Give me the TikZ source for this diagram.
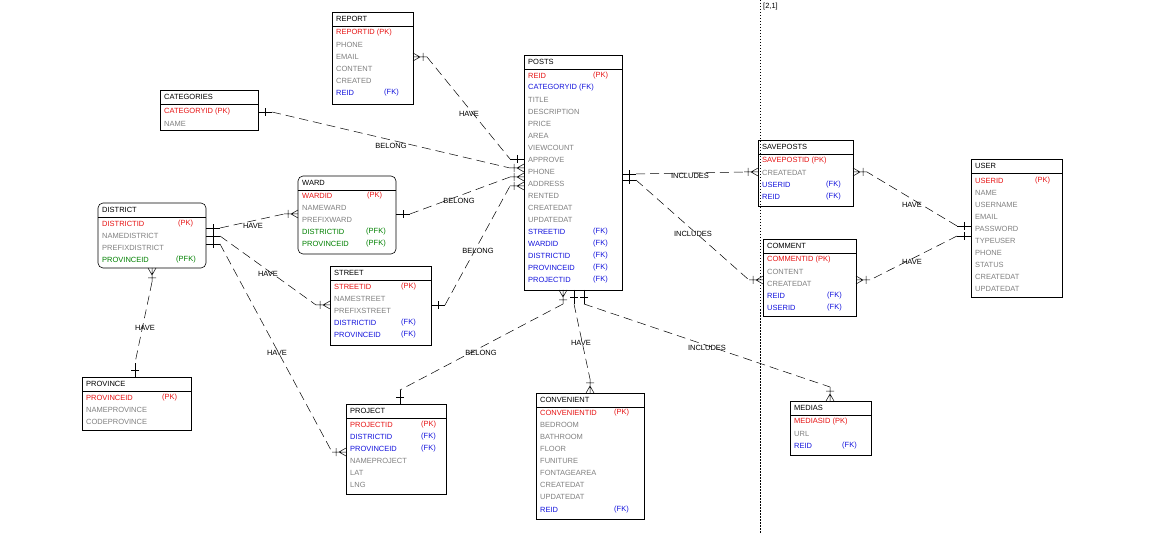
\documentclass[tikz,border=0pt]{standalone}
\usepackage{fontspec}
\setmainfont{Liberation Sans}
\usetikzlibrary{fit,calc}
\definecolor{pk}{RGB}{230,20,20}
\definecolor{fk}{RGB}{20,20,220}
\definecolor{pf}{RGB}{0,128,0}
\definecolor{at}{RGB}{128,128,128}
\tikzset{
  rel/.style={dash pattern=on 9pt off 5pt,line width=0.5pt},
  fld/.style={anchor=west,inner sep=0,font=\fontsize{7.5}{9}\selectfont},
  lbl/.style={inner sep=1pt,font=\fontsize{7.5}{9}\selectfont},
  boxline/.style={line width=0.6pt},
  crow/.pic={\draw[line width=0.5pt] (0,4)--(7,0)--(0,-4) (0,0)--(14,0) (10,4)--(10,-4);},
  one/.pic={\draw[line width=0.5pt] (0,0)--(14,0) (7,4)--(7,-4);}
}
\newcommand\erbox[6][]{%
  \draw[boxline,#1] (#3,#4) rectangle (#5,#6);
  \draw[boxline] (#3,{#4+14}) -- (#5,{#4+14});
  \node[fld] at ({#3+4},{#4+7}) {#2};
  \node[inner sep=0,fit={(#3,#4)(#5,#6)}] (#2) {};}
\newcommand\fl[4]{\node[fld,text=#3] at (#1,#2) {#4};}
% \rel{A}{angleA}{tipA}{B}{angleB}{tipB}
\newcommand\rel[6]{%
  \pic[rotate=#2] at (#1) {#3};
  \pic[rotate=#5] at (#4) {#6};
  \draw[rel] ($(#1)+(#2:14pt)$) -- ($(#4)+(#5:14pt)$);}
\begin{document}
\begin{tikzpicture}[x=1pt,y=-1pt]
\useasboundingbox (0,0) rectangle (1175,534);
\draw[dash pattern=on 1.5pt off 1.5pt] (760,0) -- (760,534);
\node[fld] at (763,7) {[2,1]};
% REPORT
\erbox{REPORT}{332}{12}{413}{104}
\fl{336}{33}{pk}{REPORTID (PK)}
\fl{336}{45}{at}{PHONE}\fl{336}{57}{at}{EMAIL}\fl{336}{69}{at}{CONTENT}\fl{336}{81}{at}{CREATED}
\fl{336}{93}{fk}{REID}\fl{384}{93}{fk}{(FK)}
% CATEGORIES
\erbox{CATEGORIES}{160}{90}{258}{130}
\fl{164}{112}{pk}{CATEGORYID (PK)}\fl{164}{124}{at}{NAME}
% POSTS
\erbox{POSTS}{524}{55}{622}{290}
\fl{528}{76}{pk}{REID}\fl{593}{76}{pk}{(PK)}
\fl{528}{88}{fk}{CATEGORYID (FK)}
\fl{528}{100}{at}{TITLE}\fl{528}{112}{at}{DESCRIPTION}\fl{528}{124}{at}{PRICE}\fl{528}{136}{at}{AREA}
\fl{528}{148}{at}{VIEWCOUNT}\fl{528}{160}{at}{APPROVE}\fl{528}{172}{at}{PHONE}\fl{528}{184}{at}{ADDRESS}
\fl{528}{196}{at}{RENTED}\fl{528}{208}{at}{CREATEDAT}\fl{528}{220}{at}{UPDATEDAT}
\fl{528}{232}{fk}{STREETID}\fl{593}{232}{fk}{(FK)}
\fl{528}{244}{fk}{WARDID}\fl{593}{244}{fk}{(FK)}
\fl{528}{256}{fk}{DISTRICTID}\fl{593}{256}{fk}{(FK)}
\fl{528}{268}{fk}{PROVINCEID}\fl{593}{268}{fk}{(FK)}
\fl{528}{280}{fk}{PROJECTID}\fl{593}{280}{fk}{(FK)}
% WARD
\erbox[rounded corners=5pt]{WARD}{298}{176}{396}{254}
\fl{302}{196}{pk}{WARDID}\fl{367}{196}{pk}{(PK)}
\fl{302}{208}{at}{NAMEWARD}\fl{302}{220}{at}{PREFIXWARD}
\fl{302}{232}{pf}{DISTRICTID}\fl{366}{232}{pf}{(PFK)}
\fl{302}{244}{pf}{PROVINCEID}\fl{366}{244}{pf}{(PFK)}
% DISTRICT
\erbox[rounded corners=5pt]{DISTRICT}{98}{203}{206}{268}
\fl{102}{224}{pk}{DISTRICTID}\fl{178}{224}{pk}{(PK)}
\fl{102}{236}{at}{NAMEDISTRICT}\fl{102}{248}{at}{PREFIXDISTRICT}
\fl{102}{260}{pf}{PROVINCEID}\fl{176}{260}{pf}{(PFK)}
% STREET
\erbox{STREET}{330}{266}{431}{345}
\fl{334}{287}{pk}{STREETID}\fl{401}{287}{pk}{(PK)}
\fl{334}{299}{at}{NAMESTREET}\fl{334}{311}{at}{PREFIXSTREET}
\fl{334}{323}{fk}{DISTRICTID}\fl{401}{323}{fk}{(FK)}
\fl{334}{335}{fk}{PROVINCEID}\fl{401}{335}{fk}{(FK)}
% PROVINCE
\erbox{PROVINCE}{82}{377}{191}{430}
\fl{86}{398}{pk}{PROVINCEID}\fl{162}{398}{pk}{(PK)}
\fl{86}{410}{at}{NAMEPROVINCE}\fl{86}{422}{at}{CODEPROVINCE}
% PROJECT
\erbox{PROJECT}{346}{404}{446}{494}
\fl{350}{425}{pk}{PROJECTID}\fl{421}{425}{pk}{(PK)}
\fl{350}{437}{fk}{DISTRICTID}\fl{421}{437}{fk}{(FK)}
\fl{350}{449}{fk}{PROVINCEID}\fl{421}{449}{fk}{(FK)}
\fl{350}{461}{at}{NAMEPROJECT}\fl{350}{473}{at}{LAT}\fl{350}{485}{at}{LNG}
% CONVENIENT
\erbox{CONVENIENT}{536}{393}{644}{519}
\fl{540}{413}{pk}{CONVENIENTID}\fl{614}{413}{pk}{(PK)}
\fl{540}{425}{at}{BEDROOM}\fl{540}{437}{at}{BATHROOM}\fl{540}{449}{at}{FLOOR}\fl{540}{461}{at}{FUNITURE}
\fl{540}{473}{at}{FONTAGEAREA}\fl{540}{485}{at}{CREATEDAT}\fl{540}{497}{at}{UPDATEDAT}
\fl{540}{510}{fk}{REID}\fl{614}{510}{fk}{(FK)}
% SAVEPOSTS
\erbox{SAVEPOSTS}{758}{140}{853}{206}
\fl{762}{161}{pk}{SAVEPOSTID (PK)}\fl{762}{173}{at}{CREATEDAT}
\fl{762}{185}{fk}{USERID}\fl{826}{185}{fk}{(FK)}
\fl{762}{197}{fk}{REID}\fl{826}{197}{fk}{(FK)}
% COMMENT
\erbox{COMMENT}{763}{239}{856}{316}
\fl{767}{260}{pk}{COMMENTID (PK)}\fl{767}{272}{at}{CONTENT}\fl{767}{284}{at}{CREATEDAT}
\fl{767}{296}{fk}{REID}\fl{827}{296}{fk}{(FK)}
\fl{767}{308}{fk}{USERID}\fl{827}{308}{fk}{(FK)}
% USER
\erbox{USER}{971}{159}{1062}{297}
\fl{975}{181}{pk}{USERID}\fl{1035}{181}{pk}{(PK)}
\fl{975}{193}{at}{NAME}\fl{975}{205}{at}{USERNAME}\fl{975}{217}{at}{EMAIL}\fl{975}{229}{at}{PASSWORD}
\fl{975}{241}{at}{TYPEUSER}\fl{975}{253}{at}{PHONE}\fl{975}{265}{at}{STATUS}\fl{975}{277}{at}{CREATEDAT}\fl{975}{289}{at}{UPDATEDAT}
% MEDIAS
\erbox{MEDIAS}{790}{401}{871}{455}
\fl{794}{422}{pk}{MEDIASID (PK)}\fl{794}{434}{at}{URL}
\fl{794}{446}{fk}{REID}\fl{842}{446}{fk}{(FK)}
% endpoints
\coordinate (rp) at (413,57); \coordinate (pr) at (524,159);
\coordinate (ct) at (258,112); \coordinate (pc) at (524,168);
\coordinate (wp) at (396,214); \coordinate (pw) at (524,177);
\coordinate (sp) at (431,305); \coordinate (ps) at (524,186);
\coordinate (dw) at (206,228); \coordinate (wd) at (298,214);
\coordinate (ds) at (206,236); \coordinate (sd) at (330,305);
\coordinate (dj) at (206,244); \coordinate (jd) at (346,452);
\coordinate (dv) at (152,268); \coordinate (vd) at (135,377);
\coordinate (pj) at (563,290); \coordinate (jp) at (400,404);
\coordinate (pv) at (574,290); \coordinate (vp) at (590,393);
\coordinate (pm) at (584,290); \coordinate (mp) at (830,401);
\coordinate (psv) at (622,174); \coordinate (svp) at (758,172);
\coordinate (pcm) at (622,180); \coordinate (cmp) at (763,280);
\coordinate (usv) at (971,226); \coordinate (svu) at (853,172);
\coordinate (ucm) at (971,236); \coordinate (cmu) at (856,280);
% relations
\rel{rp}{0}{crow}{pr}{180}{one}
\rel{ct}{0}{one}{pc}{180}{crow}
\rel{wp}{0}{one}{pw}{180}{crow}
\rel{sp}{0}{one}{ps}{180}{crow}
\rel{dw}{0}{one}{wd}{180}{crow}
\rel{ds}{0}{one}{sd}{180}{crow}
\rel{dj}{0}{one}{jd}{180}{crow}
\rel{dv}{-90}{crow}{vd}{90}{one}
\rel{pj}{-90}{crow}{jp}{90}{one}
\rel{pv}{-90}{one}{vp}{90}{crow}
\rel{pm}{-90}{one}{mp}{90}{crow}
\rel{psv}{0}{one}{svp}{180}{crow}
\rel{pcm}{0}{one}{cmp}{180}{crow}
\rel{usv}{180}{one}{svu}{0}{crow}
\rel{ucm}{180}{one}{cmu}{0}{crow}
% labels
\node[lbl] (l1) at (469,114) {HAVE};
\node[lbl] (l2) at (391,146) {BELONG};
\node[lbl] (l3) at (459,201) {BELONG};
\node[lbl] (l4) at (478,251) {BELONG};
\node[lbl] (l5) at (253,226) {HAVE};
\node[lbl] (l6) at (268,274) {HAVE};
\node[lbl] (l7) at (277,353) {HAVE};
\node[lbl] (l8) at (145,328) {HAVE};
\node[lbl] (l9) at (481,353) {BELONG};
\node[lbl] (l10) at (581,343) {HAVE};
\node[lbl] (l11) at (707,348) {INCLUDES};
\node[lbl] (l12) at (690,176) {INCLUDES};
\node[lbl] (l13) at (693,234) {INCLUDES};
\node[lbl] (l14) at (912,205) {HAVE};
\node[lbl] (l15) at (912,262) {HAVE};
\end{tikzpicture}
\end{document}
